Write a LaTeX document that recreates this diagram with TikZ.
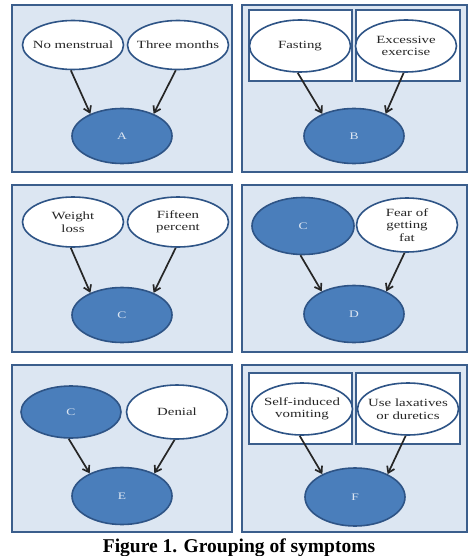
\documentclass[tikz,border=0pt]{standalone}
\usepackage{fontspec}
\setmainfont{Liberation Serif}
\newfontfamily\lblfont[FakeStretch=1.35]{Liberation Serif}
\usetikzlibrary{shapes.geometric,arrows.meta}
\definecolor{panelfill}{HTML}{DCE6F2}
\definecolor{panelline}{HTML}{3B5E8C}
\definecolor{nodeblue}{HTML}{4A7EBB}
\definecolor{nodeline}{HTML}{2E5486}
\tikzset{
	panel/.style={draw=panelline, line width=2.6pt, fill=panelfill},
	subpanel/.style={draw=panelline, line width=2.4pt, fill=white},
	cause/.style={ellipse, draw=nodeline, line width=1.6pt, fill=white, minimum width=101pt, minimum height=49pt, inner xsep=-16pt, inner ysep=-6pt, align=center, text=black!85, font=\lblfont\fontsize{11}{12.5}\selectfont},
	group/.style={ellipse, draw=nodeline, line width=1.6pt, fill=nodeblue, minimum width=100pt, minimum height=55pt, inner xsep=-16pt, inner ysep=-6pt, text=panelfill, font=\lblfont\fontsize{10}{12}\selectfont},
	link/.style={-{Straight Barb[length=6pt,width=8pt]}, line width=1.7pt, black!85}
}
\begin{document}
\begin{tikzpicture}[x=1pt, y=-1pt]
			\useasboundingbox (0,0) rectangle (474,556);

			% Panels
			\foreach \y in {5,185,365}
			{
				\draw[panel] (12,\y) rectangle (232,\y+167);
				\draw[panel] (242,\y) rectangle (467,\y+167);
			}
			% Boxes round the causes of B and F
			\foreach \y in {10,373}
			{
				\draw[subpanel] (249,\y) rectangle (352,\y+71);
				\draw[subpanel] (356,\y) rectangle (460,\y+71);
			}

			% Panel A
			\node[cause] (a1) at (73,45) {No menstrual};
			\node[cause] (a2) at (178,45) {Three months};
			\node[group] (a) at (122,136) {A};

			% Panel B
			\node[cause, minimum height=52pt] (b1) at (300,46) {Fasting};
			\node[cause, minimum height=52pt] (b2) at (406,46) {Excessive\\exercise};
			\node[group] (b) at (354,136) {B};

			% Panel C
			\node[cause, minimum height=50pt] (c1) at (73,222) {Weight\\loss};
			\node[cause, minimum height=50pt] (c2) at (178,222) {Fifteen\\percent};
			\node[group] (c) at (122,315) {C};

			% Panel D
			\node[group, minimum width=102pt, minimum height=57pt] (d1) at (303,226) {C};
			\node[cause, minimum height=54pt] (d2) at (407,225) {Fear of\\getting\\fat};
			\node[group, minimum height=57pt] (d) at (354,314) {D};

			% Panel E
			\node[group, minimum height=52pt] (e1) at (71,412) {C};
			\node[cause, minimum height=54pt] (e2) at (177,412) {Denial};
			\node[group, minimum height=57pt] (e) at (122,496) {E};

			% Panel F
			\node[cause, minimum height=52pt] (f1) at (302,409) {Self-induced\\vomiting};
			\node[cause, minimum height=52pt] (f2) at (408,409) {Use laxatives\\or duretics};
			\node[group, minimum height=58pt] (f) at (355,497) {F};

			% Draw groupings
			\foreach \g in {a,b,c,d,e,f}
			{
				\draw[link] (\g1.265) -- (\g.145);
				\draw[link] (\g2.265) -- (\g.35);
			}

			% Caption
			\node[anchor=base, font=\bfseries\fontsize{19.5}{22}\selectfont] (caption) at (239,552) {Figure 1. Grouping of symptoms};
		\end{tikzpicture}
\end{document}
